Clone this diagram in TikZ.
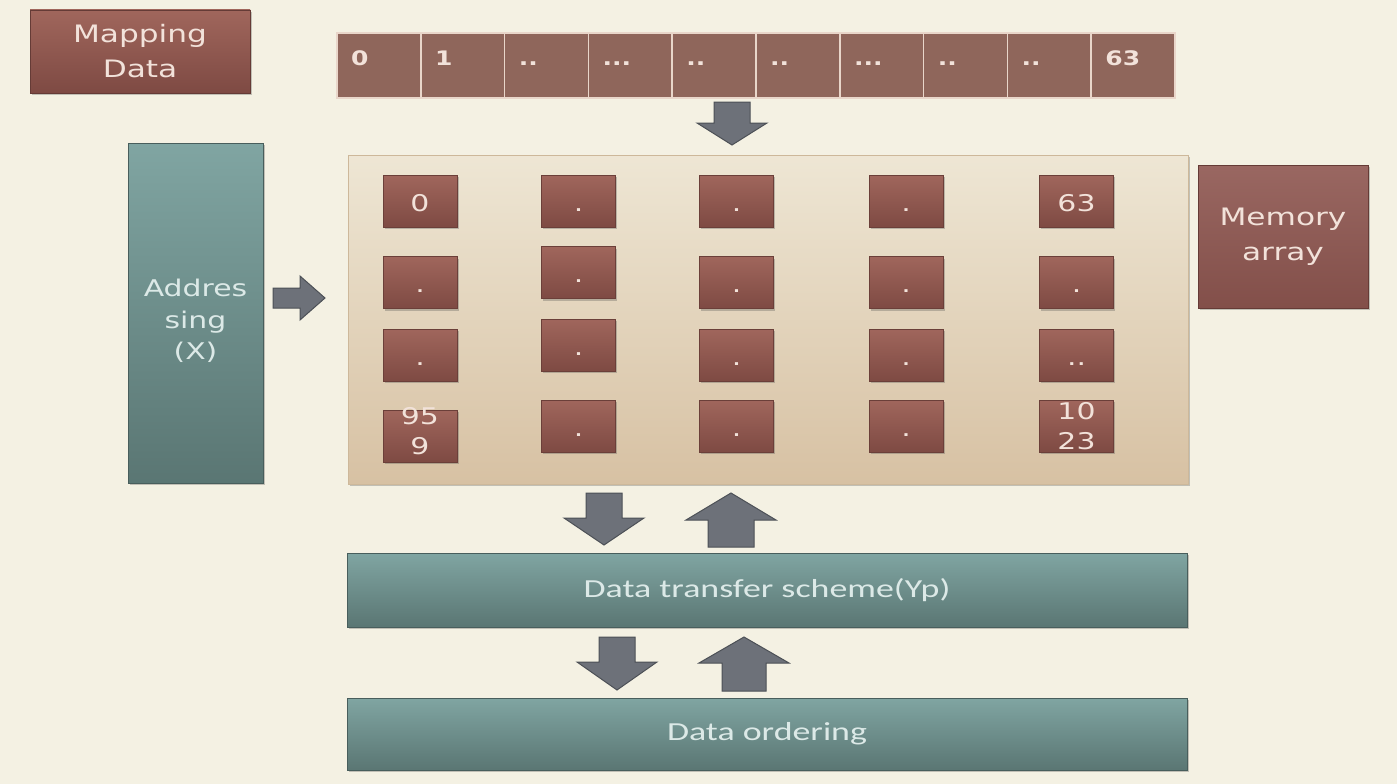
\documentclass[tikz,border=0pt]{standalone}
\usepackage{fontspec}
\usetikzlibrary{shadows}
\newfontfamily\wfont[FakeStretch=1.3]{DejaVu Sans}
\newfontfamily\wbfont[FakeStretch=1.25]{DejaVu Sans Bold}
\newfontfamily\cfont[FakeStretch=1.38]{Carlito}
\newcommand{\twodots}{..}
\newcommand{\threedots}{...}
\definecolor{bg}{HTML}{F4F1E3}
\definecolor{brownA}{HTML}{A0665C}
\definecolor{brownB}{HTML}{7E4A43}
\definecolor{memC}{HTML}{8E5650}
\definecolor{stripC}{HTML}{8F665B}
\definecolor{stripL}{HTML}{E9D6CA}
\definecolor{tealA}{HTML}{80A5A2}
\definecolor{tealB}{HTML}{5A7673}
\definecolor{panelA}{HTML}{EEE6D4}
\definecolor{panelB}{HTML}{D7C1A3}
\definecolor{panelE}{HTML}{CDB89A}
\definecolor{arrF}{HTML}{6D7179}
\definecolor{arrD}{HTML}{4C5056}
\definecolor{txtL}{HTML}{F2E2DA}
\definecolor{txtT}{HTML}{DCE9E7}
\newcommand{\vblock}[6]{%
  \draw[blk] (#1-#4,#2) -- (#1+#4,#2) -- (#1+#4,#6) -- (#1+#5,#6) -- (#1,#3)
    -- (#1-#5,#6) -- (#1-#4,#6) -- cycle;}
\newcommand{\hblock}[6]{%
  \draw[blk] (#2,#1-#4) -- (#2,#1+#4) -- (#6,#1+#4) -- (#6,#1+#5) -- (#3,#1)
    -- (#6,#1-#5) -- (#6,#1-#4) -- cycle;}
\tikzset{
  shad/.style={drop shadow={shadow xshift=1.5pt,shadow yshift=-2pt,opacity=.3,fill=black!70}},
  brownbox/.style={shad,top color=brownA,bottom color=brownB,draw=brownB!80!black,line width=.6pt,
    text=txtL,font=\wfont\fontsize{24}{35}\selectfont,align=center,inner sep=0pt},
  membox/.style={brownbox,top color=memC!90!white,bottom color=memC!92!black},
  tealbox/.style={shad,top color=tealA,bottom color=tealB,draw=tealB!80!black,line width=.6pt,
    text=txtT,inner sep=0pt,align=center},
  stripcell/.style={fill=stripC,draw=stripL,line width=1.6pt,minimum width=83.8pt,
    minimum height=65pt,inner sep=0pt},
  striptxt/.style={anchor=base west,text=txtL,font=\wbfont\fontsize{20}{24}\selectfont,inner sep=0pt},
  cell/.style={shad,top color=brownA,bottom color=brownB,draw=brownB!85!black,line width=.5pt,
    minimum width=74pt,minimum height=52pt,inner sep=0pt,text=txtL,
    font=\wfont\fontsize{23}{30}\selectfont},
  dotcell/.style={cell,text height=20pt,text depth=0pt},
  celltxt/.style={text=txtL,font=\wfont\fontsize{23}{30}\selectfont,align=center,inner sep=0pt},
  blk/.style={fill=arrF,draw=arrD,line width=1pt,line join=miter}
}
\begin{document}
\begin{tikzpicture}[x=1pt,y=-1pt]
\useasboundingbox (0,0) rectangle (1397,784);
\fill[bg] (0,0) rectangle (1397,784);

% Mapping data
\node[brownbox,minimum width=220pt,minimum height=83pt] (map) at (140,51.5) {Mapping\\Data};

% strip
\foreach \i/\t in {0/0,1/1,2/\twodots,3/\threedots,4/\twodots,5/\twodots,6/\threedots,7/\twodots,8/\twodots,9/63}{
  \node[stripcell] (s\i) at ({337+41.9+83.8*\i},65.5) {};
  \node[striptxt] (st\i) at ({337+14+83.8*\i},66) {\t};
}

% addressing
\node[tealbox,minimum width=135pt,minimum height=340pt] (addr) at (195.5,313) {};
\node[text=txtT,font=\wfont\fontsize{23}{31.5}\selectfont,align=center,inner sep=0pt] (addrt) at (195.5,321) {Addres\\sing\\(X)};

% panel
\node[shad,top color=panelA,bottom color=panelB,draw=panelE,line width=.6pt,
  minimum width=840pt,minimum height=329pt,inner sep=0pt] (panel) at (768,319.5) {};

% memory array label
\node[membox,minimum width=170pt,minimum height=143pt] (mem) at (1283,236.5) {Memory\\array};

% cells
\node[dotcell] (m11) at (420,201) {0};
\node[dotcell] (m12) at (578.5,201) {.};
\node[dotcell] (m13) at (736.5,201) {.};
\node[dotcell] (m14) at (906,201) {.};
\node[dotcell] (m15) at (1076.5,201) {63};

\node[dotcell] (m21) at (420,282.5) {.};
\node[dotcell] (m22) at (578.5,272.5) {.};
\node[dotcell] (m23) at (736.5,282.5) {.};
\node[dotcell] (m24) at (906,282.5) {.};
\node[dotcell] (m25) at (1076.5,282.5) {.};

\node[dotcell] (m31) at (420,355) {.};
\node[dotcell] (m32) at (578.5,345) {.};
\node[dotcell] (m33) at (736.5,355) {.};
\node[dotcell] (m34) at (906,355) {.};
\node[dotcell] (m35) at (1076.5,355) {..};

\node[cell] (m41) at (420,436) {};
\node[dotcell] (m42) at (578.5,426) {.};
\node[dotcell] (m43) at (736.5,426) {.};
\node[dotcell] (m44) at (906,426) {.};
\node[cell] (m45) at (1076.5,426) {};
\node[celltxt] (l41) at (420,431) {95\\9};
\node[celltxt] (l45) at (1076.5,426) {10\\23};

% data boxes
\node[tealbox,minimum width=840pt,minimum height=74pt,font=\cfont\fontsize{26}{30}\selectfont] (dts) at (767,590) {Data transfer scheme(Yp)};
\node[tealbox,minimum width=840pt,minimum height=72pt,font=\cfont\fontsize{26}{30}\selectfont] (dord) at (767,734) {Data ordering};

% block arrows
\vblock{732}{102}{145}{18}{35}{123}
\hblock{298}{273}{325}{10}{22}{300}
\vblock{604}{493}{545}{18}{40}{518}
\vblock{731}{547}{493}{23}{45}{520}
\vblock{617}{637}{690}{18}{40}{662}
\vblock{744}{691}{637}{22}{45}{663}
\end{tikzpicture}
\end{document}
